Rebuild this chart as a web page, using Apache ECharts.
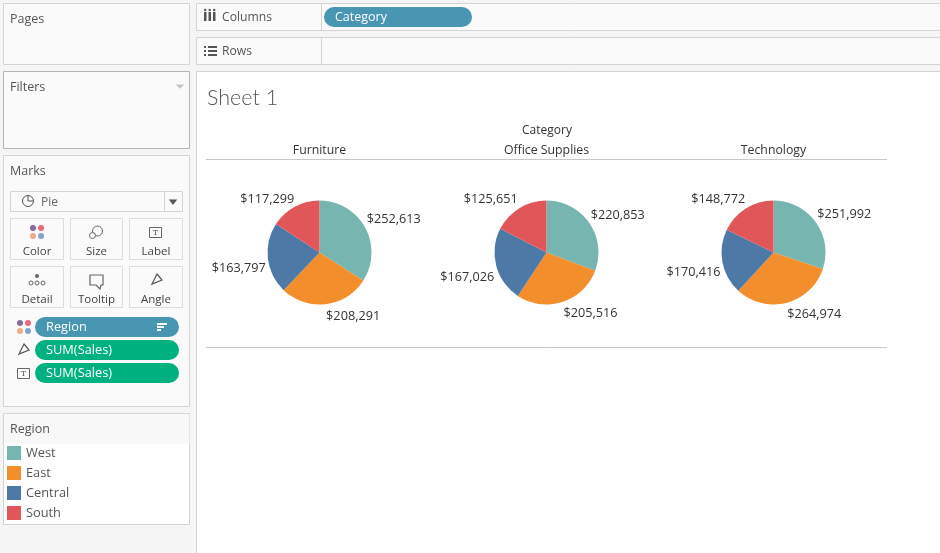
<!DOCTYPE html>
<html>
<head>
<meta charset="utf-8">
<style>html,body{margin:0;padding:0;background:#f5f5f5}#chart{width:940px;height:553px}</style>
<script src="https://cdn.jsdelivr.net/npm/echarts@6/dist/echarts.min.js"></script>
</head>
<body>
<div id="chart"></div>
<script>
var categories = ['Furniture', 'Office Supplies', 'Technology'];
var regions = ['West', 'East', 'Central', 'South'];
var furnitureSales = [252613, 208291, 163797, 117299];
var officeSales = [220853, 205516, 167026, 125651];
var technologySales = [251992, 264974, 170416, 148772];
var regionColors = ['#76b5b0', '#f28e2b', '#4e79a7', '#e15759'];

// nudges from the default outside label spot, one row per pie
var labelNudges = [
    [[-6, -7], [-5, 9], [6, 10], [6, -5]],
    [[-6, -6], [-5, 9], [6, 11], [5, -6]],
    [[-6, -6], [-5, 9], [6, 10], [6, -6]]
];

var chart = echarts.init(document.getElementById('chart'));
var FONT = '"Open Sans"';
var graphics = [];

function box(x, y, w, h, fill, stroke) {
    graphics.push({type: 'rect', silent: true, shape: {x: x + 0.5, y: y + 0.5, width: w, height: h},
        style: {fill: fill, stroke: stroke || null, lineWidth: 1}});
}
function bar(x, y, w, h, fill) {
    graphics.push({type: 'rect', silent: true, shape: {x: x, y: y, width: w, height: h}, style: {fill: fill}});
}
function pill(x, y, w, h, fill) {
    graphics.push({type: 'rect', silent: true, shape: {x: x, y: y, width: w, height: h, r: h / 2}, style: {fill: fill}});
}
function text(x, y, str, size, color, align, family, weight) {
    graphics.push({type: 'text', silent: true, x: x, y: y + 0.8, style: {text: str, fontSize: size, fill: color,
        fontFamily: family || FONT, fontWeight: weight || 'normal', align: align || 'left', verticalAlign: 'middle'}});
}
function line(x1, y1, x2, y2, color) {
    graphics.push({type: 'line', silent: true, shape: {x1: x1, y1: y1, x2: x2, y2: y2},
        style: {stroke: color, lineWidth: 1}});
}
function dot(x, y, r, fill, stroke) {
    graphics.push({type: 'circle', silent: true, shape: {cx: x, cy: y, r: r},
        style: {fill: fill, stroke: stroke || null, lineWidth: 1}});
}
function poly(points, stroke, fill) {
    graphics.push({type: 'polygon', silent: true, shape: {points: points},
        style: {fill: fill || 'none', stroke: stroke, lineWidth: 1.2}});
}
function colorDots(x, y) {
    dot(x, y, 3, '#8a6d9e'); dot(x + 8, y, 3, '#e8697d');
    dot(x, y + 8, 3, '#f0a98a'); dot(x + 8, y + 8, 3, '#7fa6c9');
}
function angleIcon(x, y) {
    poly([[x, y], [x + 5, y + 6], [x - 5, y + 10]], '#555');
}
function labelIcon(x, y) {
    box(x, y, 12, 10, 'none', '#666');
    text(x + 6.5, y + 5, 'T', 8, '#555', 'center', 'DejaVu Serif');
}

// left column
box(3, 3, 186, 61, '#fafafa', '#d4d4d4');
text(10, 19, 'Pages', 12.5, '#555');
box(3, 71, 186, 77, '#fafafa', '#b4b4b4');
text(10, 87, 'Filters', 12.5, '#555');
poly([[177, 85], [183, 85], [180, 88]], '#c4c4c4', '#c4c4c4');
box(3, 155, 186, 251, '#fafafa', '#d4d4d4');
text(10, 171, 'Marks', 12.5, '#555');

// marks type dropdown
box(10, 191, 172, 20, '#fafafa', '#d4d4d4');
line(164.5, 191, 164.5, 211, '#d4d4d4');
dot(28, 201, 5.5, 'none', '#555');
line(28, 201, 28, 195.5, '#555');
line(28, 201, 33, 201, '#555');
text(41, 202, 'Pie', 12, '#666');
poly([[170, 200], [176, 200], [173, 204]], '#555', '#555');

// marks buttons
var btnX = [10, 70, 129], btnW = [53, 52, 53];
[['Color', 'Size', 'Label'], ['Detail', 'Tooltip', 'Angle']].forEach(function (row, r) {
    row.forEach(function (name, c) {
        var y = 218 + r * 48;
        box(btnX[c], y, btnW[c], 41, '#fafafa', '#dcdcdc');
        text(btnX[c] + btnW[c] / 2 + 0.5, y + 33, name, 11.5, '#444', 'center');
    });
});
colorDots(33, 228);
dot(97.5, 231, 5, 'none', '#666');
dot(92.5, 235.5, 3, '#fafafa', '#666');
labelIcon(149, 227);
dot(37, 276, 2, '#666');
[31, 37, 43].forEach(function (x) { dot(x, 283, 2, 'none', '#666'); });
poly([[90, 275], [103, 275], [103, 285], [101, 285], [100, 289], [96, 285], [90, 285]], '#666');
angleIcon(157, 274);

// marks shelf
colorDots(20, 323);
angleIcon(24, 344);
labelIcon(17, 368);
pill(35, 317, 144, 20, '#4996b2');
pill(35, 340, 144, 20, '#00b180');
pill(35, 363, 144, 20, '#00b180');
text(46, 327, 'Region', 12.8, '#fff');
text(46, 350, 'SUM(Sales)', 12.8, '#fff');
text(46, 373, 'SUM(Sales)', 12.8, '#fff');
[10, 7, 4].forEach(function (w, i) {
    bar(157, 323 + i * 3, w, 2, '#fff');
});

// legend card
box(3, 413, 186, 111, '#fff', '#d4d4d4');
box(4, 414, 185, 29, '#f8f8f8');
text(10, 429, 'Region', 12.5, '#555');

// shelves
box(196, 3, 750, 27, '#fafafa', '#d4d4d4');
box(196, 37, 750, 27, '#fafafa', '#d4d4d4');
line(321.5, 4, 321.5, 30, '#d4d4d4');
line(321.5, 38, 321.5, 64, '#d4d4d4');
[204, 208.5, 213].forEach(function (x) {
    bar(x, 12, 2.5, 9, '#555');
    dot(x + 1.2, 10, 1.2, '#555');
});
[46, 50, 54].forEach(function (y) {
    bar(204, y, 2, 2, '#555');
    bar(208, y, 9, 2, '#555');
});
text(222, 17, 'Columns', 12.2, '#555');
text(222, 51, 'Rows', 12.2, '#555');
pill(324, 7, 148, 20, '#4996b2');
text(335, 17, 'Category', 12.5, '#fff');

// worksheet
box(196, 71, 750, 490, '#fff', '#d4d4d4');
text(207, 97, 'Sheet 1', 21.5, '#555', 'left', 'Lato', 300);
text(547, 130, 'Category', 12, '#333', 'center');
categories.forEach(function (name, i) {
    text(319.5 + i * 227, 150, name, 12.3, '#333', 'center');
});
line(206, 159.5, 887, 159.5, '#c8c8c8');
line(206, 347.5, 887, 347.5, '#c8c8c8');

function money(v) {
    return '$' + v.toLocaleString('en-US');
}
function pieSeries(values, cx, nudges) {
    return {
        type: 'pie',
        center: [cx, 252.5],
        radius: [0, 52],
        startAngle: 90,
        clockwise: true,
        animation: false,
        silent: true,
        itemStyle: {borderWidth: 0},
        label: {show: true, position: 'outside', color: '#333', fontSize: 12.7, fontFamily: FONT,
            formatter: function (p) { return money(p.value); }},
        labelLine: {show: false, length: 3, length2: 0},
        labelLayout: function (p) {
            return {dx: nudges[p.dataIndex][0], dy: nudges[p.dataIndex][1]};
        },
        data: regions.map(function (r, i) { return {name: r, value: values[i]}; })
    };
}

chart.setOption({
    animation: false,
    backgroundColor: '#f5f5f5',
    color: regionColors,
    graphic: {elements: graphics},
    legend: {
        data: regions, orient: 'vertical', left: 7, top: 446,
        itemWidth: 14, itemHeight: 14, itemGap: 6, icon: 'rect',
        selectedMode: false,
        textStyle: {color: '#555', fontSize: 12.8, fontFamily: FONT, lineHeight: 12, padding: [2, 0, 0, 0]},
        padding: 0
    },
    series: [
        pieSeries(furnitureSales, 319.5, labelNudges[0]),
        pieSeries(officeSales, 546.5, labelNudges[1]),
        pieSeries(technologySales, 773.5, labelNudges[2])
    ]
});
</script>
</body>
</html>
